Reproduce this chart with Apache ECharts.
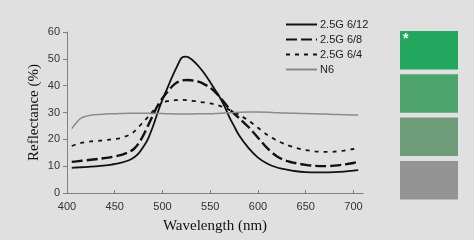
<!DOCTYPE html>
<html>
<head>
<meta charset="utf-8">
<script src="https://cdn.jsdelivr.net/npm/echarts@6/dist/echarts.min.js"></script>
<style>
  html, body { margin: 0; padding: 0; background: #e0e0e0; }
  #chart { width: 474px; height: 240px; }
</style>
</head>
<body>
<div id="chart"></div>
<script>
// wavelength grid (nm)
const wavelengths = [405, 410, 415, 425, 435, 445, 455, 465, 470, 475, 480, 485, 490, 495, 500, 505, 510, 515, 520, 525, 530, 535, 540, 545, 550, 555, 560, 565, 570, 575, 580, 590, 600, 610, 620, 630, 640, 650, 660, 670, 680, 690, 700, 705];

// reflectance (%) per sample
const g612 = [9.4, 9.5, 9.6, 9.8, 10.1, 10.5, 11.1, 12.2, 13.2, 14.8, 17.2, 20.3, 24.8, 30, 34.8, 39, 43.2, 47, 50.4, 50.8, 49.9, 48.3, 46.3, 44, 41.3, 38.5, 35.7, 32.3, 28.3, 24.9, 21.6, 16.8, 13.2, 10.9, 9.5, 8.7, 8.1, 7.8, 7.7, 7.7, 7.8, 8, 8.3, 8.5];
const g68 = [11.6, 11.8, 12, 12.4, 12.8, 13.3, 14, 15.3, 16.4, 18.5, 21.5, 25.2, 29, 32.6, 35.3, 37.6, 39.7, 41.2, 41.9, 42.1, 42, 41.7, 41.2, 40.3, 39.2, 37.7, 35.8, 33.6, 31.4, 29.6, 28, 24.6, 20.6, 16.6, 13.6, 12, 11.1, 10.5, 10.1, 10, 10.2, 10.6, 11.2, 11.6];
const g64 = [17.5, 18.2, 18.7, 19.2, 19.5, 19.9, 20.4, 21.6, 22.8, 24.6, 26.5, 28.4, 30.5, 32.4, 33.6, 34.2, 34.5, 34.6, 34.7, 34.6, 34.4, 34.2, 33.9, 33.7, 33.4, 33, 32.5, 31.8, 31, 30.1, 29.2, 27, 24.3, 21.6, 19.5, 18, 16.8, 16, 15.5, 15.3, 15.4, 15.8, 16.4, 16.6];
const n6 = [24, 26.3, 28, 29, 29.3, 29.5, 29.6, 29.7, 29.7, 29.7, 29.7, 29.7, 29.6, 29.6, 29.6, 29.5, 29.5, 29.4, 29.4, 29.4, 29.4, 29.5, 29.5, 29.5, 29.5, 29.6, 29.7, 29.8, 29.9, 30, 30.1, 30.2, 30.2, 30.1, 29.9, 29.8, 29.7, 29.6, 29.5, 29.4, 29.3, 29.2, 29.1, 29.1];

const seriesNames = ['2.5G 6/12', '2.5G 6/8', '2.5G 6/4', 'N6'];
const xTicks = [400, 450, 500, 550, 600, 650, 700];

// colour chips on the right
const swatchColors = ['#23a65e', '#4da46d', '#6f9c78', '#949494'];

const pairs = vals => wavelengths.map((w, i) => [w, vals[i]]);

let myChart = echarts.init(document.getElementById('chart'));

// chips drawn as plain rects
let chips = swatchColors.map((c, i) => ({
  type: 'rect',
  shape: { x: 400, y: 31 + i * 43.3, width: 58, height: 38.5 },
  style: { fill: c }
}));
chips.push({
  type: 'text',
  x: 403, y: 32,
  style: { text: '*', fill: '#fff', font: 'bold 14px "Liberation Sans"' }
});

let option = {
  backgroundColor: '#e0e0e0',
  animation: false,
  grid: { left: 67, right: 111, top: 32, bottom: 47 },
  legend: {
    orient: 'vertical',
    left: 280,
    top: 14,
    itemWidth: 31,
    itemHeight: 10,
    itemGap: 4,
    itemStyle: { opacity: 0 },
    textStyle: { fontSize: 11, color: '#222', fontFamily: 'Liberation Sans', padding: [0, 0, 0, -2] },
    data: seriesNames
  },
  xAxis: {
    type: 'value',
    min: 400,
    max: 710,
    interval: 50,
    name: 'Wavelength (nm)',
    nameLocation: 'middle',
    nameGap: 26,
    nameMoveOverlap: false,
    nameTextStyle: { fontFamily: 'Liberation Serif', fontSize: 15, color: '#111' },
    splitLine: { show: false },
    axisLine: { lineStyle: { color: '#808080', width: 1 } },
    axisTick: { inside: true, length: 3, lineStyle: { color: '#808080' }, customValues: xTicks },
    axisLabel: { fontSize: 11, color: '#333', fontFamily: 'Liberation Sans', margin: 8, customValues: xTicks }
  },
  yAxis: {
    type: 'value',
    min: 0,
    max: 60,
    interval: 10,
    name: 'Reflectance (%)',
    nameLocation: 'middle',
    nameGap: 25,
    nameMoveOverlap: false,
    nameTextStyle: { fontFamily: 'Liberation Serif', fontSize: 15, color: '#111' },
    splitLine: { show: false },
    axisLine: { show: true, lineStyle: { color: '#808080', width: 1 } },
    axisTick: { show: true, length: 4, lineStyle: { color: '#808080' } },
    axisLabel: { fontSize: 11, color: '#333', fontFamily: 'Liberation Sans', margin: 7 }
  },
  series: [
    {
      name: seriesNames[0], type: 'line', data: pairs(g612),
      symbol: 'none', smooth: 0.3,
      lineStyle: { color: '#111', width: 1.8 }, itemStyle: { color: '#111' }
    },
    {
      name: seriesNames[1], type: 'line', data: pairs(g68),
      symbol: 'none', smooth: 0.3,
      lineStyle: { color: '#111', width: 2.4, type: [11, 4] }, itemStyle: { color: '#111' }
    },
    {
      name: seriesNames[2], type: 'line', data: pairs(g64),
      symbol: 'none', smooth: 0.3,
      lineStyle: { color: '#111', width: 1.8, type: [4, 5] }, itemStyle: { color: '#111' }
    },
    {
      name: seriesNames[3], type: 'line', data: pairs(n6),
      symbol: 'none', smooth: 0.3,
      lineStyle: { color: '#8a8a8a', width: 1.5 }, itemStyle: { color: '#8a8a8a' }
    }
  ],
  graphic: chips
};

myChart.setOption(option);
</script>
</body>
</html>
